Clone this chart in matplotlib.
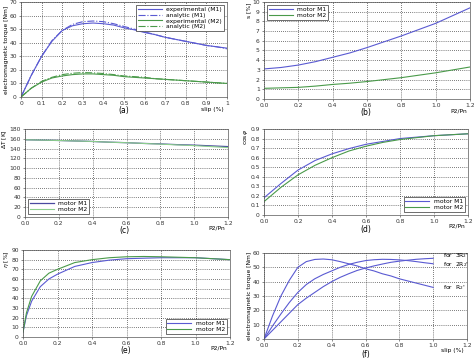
import numpy as np
import matplotlib
matplotlib.use("Agg")
import matplotlib.pyplot as plt

# ---------------- data ----------------
# (a) torque vs slip
slip_a = [0, 0.05, 0.1, 0.15, 0.2, 0.25, 0.3, 0.35, 0.4, 0.45, 0.5,
          0.55, 0.6, 0.65, 0.7, 0.75, 0.8, 0.85, 0.9, 0.95, 1.0]
exp_m1 = [0, 16, 30, 41, 49, 52.5, 54, 54.5, 54, 53, 51,
          49.5, 47.5, 46, 44, 42.5, 41, 39.5, 38, 37, 36]
ana_m1 = [0, 16, 30, 41.5, 49, 53.5, 55.5, 56, 55.5, 54, 52,
          50, 48, 46, 44, 42.5, 41, 39.5, 38, 37, 35.5]
exp_m2 = [0, 6.5, 11, 14, 15.5, 16.5, 17, 17, 16.5, 16, 15,
          14.5, 14, 13.5, 13, 12.5, 12, 11.5, 11, 10.5, 10]
ana_m2 = [0, 6.5, 11.5, 14.5, 16.5, 17.5, 18, 17.8, 17.3, 16.5, 15.5,
          15, 14.5, 13.5, 13, 12.5, 12, 11.5, 11, 10.5, 10]

# (b), (c), (d) vs load P2/Pn
load = [0, 0.1, 0.2, 0.3, 0.4, 0.5, 0.6, 0.7, 0.8, 0.9, 1.0, 1.1, 1.2]
slip_m1 = [3.1, 3.25, 3.5, 3.85, 4.3, 4.75, 5.3, 5.9, 6.5, 7.15, 7.8, 8.6, 9.4]
slip_m2 = [1.1, 1.15, 1.2, 1.33, 1.5, 1.63, 1.8, 2.0, 2.2, 2.45, 2.7, 3.0, 3.3]
dT_m1 = [158, 157.3, 156.5, 155.5, 154.5, 153, 152, 150.5, 149.5, 148, 147, 145.5, 144]
dT_m2 = [158, 157.3, 156.5, 155.5, 154.5, 153, 152, 150.5, 149, 147.5, 146, 144, 142]
pf_m1 = [0.18, 0.33, 0.47, 0.57, 0.64, 0.695, 0.74, 0.77, 0.80, 0.815, 0.83, 0.84, 0.85]
pf_m2 = [0.14, 0.29, 0.42, 0.52, 0.60, 0.67, 0.72, 0.76, 0.79, 0.81, 0.83, 0.84, 0.85]

# (e) efficiency
load_e = [0, 0.02, 0.05, 0.1, 0.15, 0.2, 0.3, 0.4, 0.5, 0.6, 0.7, 0.8, 0.9, 1.0, 1.1, 1.2]
eff_m1 = [5, 22, 37, 52, 60, 65, 73, 77, 79.5, 81, 81.5, 82, 82, 82, 81, 80]
eff_m2 = [5, 25, 42, 58, 66, 70, 77, 80, 82, 83, 83.3, 83, 82.5, 82, 81, 80]

# (f) torque vs slip for rotor resistances
slip_f = slip_a
t_r1 = [0, 16, 30, 41, 50, 54, 55.5, 55.8, 55.3, 54, 52.5,
        51, 49, 47.5, 45.5, 44, 42, 40.5, 39, 37.5, 36]
t_r2 = [0, 9, 17.5, 25.5, 32.5, 38, 42, 45, 47.5, 50, 52,
        53.5, 54.7, 55.3, 55.6, 55.5, 55.2, 54.7, 54, 53.2, 52.5]
t_r3 = [0, 6, 12, 18, 24, 28.5, 32.5, 36.5, 40, 43, 45.5,
        47.8, 49.5, 51, 52.3, 53.5, 54.3, 55, 55.6, 56, 56.3]
labels_f = [r"for  3R$_2$'", r"for  2R$_2$'", r"for  R$_2$'"]

# ---------------- plotting ----------------
W, H = 474, 363
fig = plt.figure(figsize=(W / 100, H / 100), dpi=100)
plt.rcParams['font.family'] = 'DejaVu Sans'

blue = '#5a5ad2'
green = '#4a9a4a'
fs = 4.3


def make_ax(l, r, t, b):
    ax = fig.add_axes([l / W, 1 - b / H, (r - l) / W, (b - t) / H])
    ax.grid(True, color='k', linestyle=(0, (1, 2)), linewidth=0.5)
    ax.tick_params(labelsize=fs, length=1.5, width=0.4, pad=1.5, colors='#333333')
    for s in ax.spines.values():
        s.set_linewidth(0.5)
        s.set_color('#555555')
    return ax


def xlab(ax, txt):
    ax.text(0.985, -0.1, txt, transform=ax.transAxes, ha='right', va='top', fontsize=fs)


def ylab(ax, txt, loc='center'):
    ax.set_ylabel(txt, fontsize=fs, labelpad=0.5, loc=loc)


def leg(ax, loc):
    l = ax.legend(loc=loc, fontsize=fs, fancybox=False, framealpha=1,
                  edgecolor='#333333', handlelength=4, borderpad=0.3,
                  labelspacing=0.1)
    l.get_frame().set_linewidth(0.5)


# (a)
ax = make_ax(21, 227, 2, 97)
ax.plot(slip_a, exp_m1, color=blue, lw=0.8, label='experimental (M1)')
ax.plot(slip_a, ana_m1, color=blue, lw=0.8, ls='-.', label='analytic (M1)')
ax.plot(slip_a, exp_m2, color=green, lw=0.8, label='experimental (M2)')
ax.plot(slip_a, ana_m2, color=green, lw=0.8, ls='-.', label='analytic (M2)')
ax.set_xlim(0, 1)
ax.set_ylim(0, 70)
ax.set_xticks(np.arange(0, 1.01, 0.1))
ax.set_xticklabels(['0', '0.1', '0.2', '0.3', '0.4', '0.5', '0.6', '0.7', '0.8', '0.9', '1'])
ylab(ax, 'electromagnetic torque [Nm]')
xlab(ax, 'slip (%)')
leg(ax, 'upper right')

# (b)
ax = make_ax(264, 470, 2, 99)
ax.plot(load, slip_m1, color=blue, lw=0.8, label='motor M1')
ax.plot(load, slip_m2, color=green, lw=0.8, label='motor M2')
ax.set_xlim(0, 1.2)
ax.set_ylim(0, 10)
ax.set_yticks(range(0, 11))
ylab(ax, 's [%]', 'top')
xlab(ax, 'P2/Pn')
leg(ax, 'upper left')

# (c)
ax = make_ax(25, 228, 129, 217)
ax.plot(load, dT_m1, color='#4a4aa0', lw=0.9, label='motor M1')
ax.plot(load, dT_m2, color='#8ccf8c', lw=0.8, label='motor M2')
ax.set_xlim(0, 1.2)
ax.set_ylim(0, 180)
ax.set_yticks(range(0, 181, 20))
ylab(ax, r'$\Delta$T [K]', 'top')
xlab(ax, 'P2/Pn')
leg(ax, 'lower left')

# (d)
ax = make_ax(264, 468, 129, 215)
ax.plot(load, pf_m1, color=blue, lw=0.8, label='motor M1')
ax.plot(load, pf_m2, color=green, lw=0.8, label='motor M2')
ax.set_xlim(0, 1.2)
ax.set_ylim(0, 0.9)
ax.set_yticks(np.arange(0, 0.91, 0.1))
ax.set_yticklabels(['0', '0.1', '0.2', '0.3', '0.4', '0.5', '0.6', '0.7', '0.8', '0.9'])
ylab(ax, r'cos$\varphi$', 'top')
xlab(ax, 'P2/Pn')
leg(ax, 'lower right')

# (e)
ax = make_ax(23, 230, 250, 337)
ax.plot(load_e, eff_m1, color=blue, lw=0.8, label='motor M1')
ax.plot(load_e, eff_m2, color=green, lw=0.8, label='motor M2')
ax.set_xlim(0, 1.2)
ax.set_ylim(0, 90)
ax.set_yticks(range(0, 91, 10))
ylab(ax, r'$\eta$ [%]', 'top')
xlab(ax, 'P2/Pn')
leg(ax, 'lower right')

# (f)
ax = make_ax(264, 467, 253, 339)
for curve, lab, dy in zip([t_r3, t_r2, t_r1], labels_f, [1.8, -0.8, 0]):
    ax.plot(slip_f, curve, color=blue, lw=0.8)
    ax.text(1.06, curve[-1] + dy, lab, fontsize=fs, va='center', ha='left')
ax.set_xlim(0, 1.2)
ax.set_ylim(0, 60)
ylab(ax, 'electromagnetic torque [Nm]')
xlab(ax, 'slip (%)')

# panel letters
for x, y, t in [(124, 111, '(a)'), (366, 112, '(b)'), (124, 230, '(c)'),
                (366, 229, '(d)'), (126, 351, '(e)'), (366, 354, '(f)')]:
    fig.text(x / W, 1 - y / H, t, fontsize=5.5, ha='center', va='center')

fig.savefig('out.png', dpi=100)
